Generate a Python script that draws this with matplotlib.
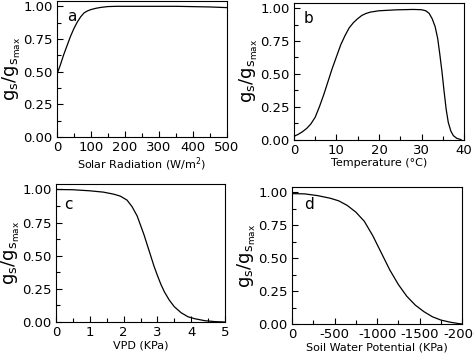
import matplotlib
matplotlib.use('Agg')
import matplotlib.pyplot as plt
from matplotlib.ticker import MultipleLocator, FormatStrFormatter

plt.rcParams['axes.unicode_minus'] = False
plt.rcParams['font.family'] = 'DejaVu Sans'

# a) solar radiation response
solar_x = [0, 10, 20, 30, 40, 50, 60, 70, 80, 90, 100, 115, 130, 150, 175,
           250, 350, 450, 500]
solar_y = [0.48, 0.55, 0.63, 0.70, 0.77, 0.83, 0.88, 0.92, 0.95, 0.965, 0.975,
           0.985, 0.992, 0.998, 1.0, 1.0, 1.0, 0.995, 0.99]

# b) temperature response
temp_x = [0, 1, 2, 3, 4, 5, 6, 7, 8, 9, 10, 11, 12, 13, 14, 15, 16, 17, 18,
          20, 24, 28, 30, 31, 31.8, 32.5, 33.2, 33.8, 34.3, 34.8, 35.3, 35.8,
          36.3, 36.9, 37.5, 38.3, 39.3]
temp_y = [0.025, 0.04, 0.06, 0.085, 0.12, 0.17, 0.25, 0.34, 0.44, 0.54, 0.63,
          0.72, 0.79, 0.85, 0.89, 0.92, 0.945, 0.96, 0.97, 0.98, 0.987, 0.99,
          0.988, 0.98, 0.96, 0.92, 0.86, 0.77, 0.65, 0.52, 0.37, 0.23, 0.13,
          0.065, 0.03, 0.01, 0.0]

# c) vapour pressure deficit response
vpd_x = [0, 0.5, 1.0, 1.4, 1.7, 1.9, 2.1, 2.25, 2.4, 2.5, 2.6, 2.7, 2.8, 2.9,
         3.0, 3.1, 3.2, 3.35, 3.5, 3.7, 3.9, 4.1, 4.4, 4.7, 5.0]
vpd_y = [1.0, 0.998, 0.99, 0.98, 0.965, 0.95, 0.92, 0.87, 0.80, 0.73, 0.66,
         0.58, 0.50, 0.42, 0.35, 0.285, 0.23, 0.165, 0.115, 0.07, 0.04, 0.025,
         0.01, 0.003, 0.0]

# d) soil water potential response
swp_x = [0, -150, -300, -450, -550, -650, -750, -850, -950, -1050, -1150,
         -1250, -1350, -1450, -1550, -1650, -1750, -1850, -1950, -2000]
swp_y = [0.99, 0.988, 0.975, 0.955, 0.935, 0.90, 0.85, 0.78, 0.67, 0.54,
         0.41, 0.30, 0.21, 0.143, 0.094, 0.055, 0.03, 0.015, 0.004, 0.0]

ylab = r'$\mathregular{g_s/g_{s_{max}}}$'

panels = [
    dict(pos=[0.120, 0.618, 0.359, 0.379], x=solar_x, y=solar_y,
         xlim=(0, 500), major=100, minor=50,
         xlabel='Solar Radiation (W/m$^2$)', tag='a', tagxy=(44, 0.92)),
    dict(pos=[0.620, 0.611, 0.359, 0.381], x=temp_x, y=temp_y,
         xlim=(0, 40), major=10, minor=5,
         xlabel='Temperature (°C)', tag='b', tagxy=(3.5, 0.92)),
    dict(pos=[0.118, 0.103, 0.357, 0.384], x=vpd_x, y=vpd_y,
         xlim=(0, 5), major=1, minor=0.5,
         xlabel='VPD (KPa)', tag='c', tagxy=(0.37, 0.89)),
    dict(pos=[0.616, 0.0975, 0.359, 0.3815], x=swp_x, y=swp_y,
         xlim=(0, -2000), major=500, minor=250,
         xlabel='Soil Water Potential (KPa)', tag='d', tagxy=(-197, 0.91)),
]

fig = plt.figure(figsize=(4.74, 3.59), dpi=100)
for p in panels:
    ax = fig.add_axes(p['pos'])
    ax.plot(p['x'], p['y'], color='black', linewidth=0.9)
    ax.set_xlim(*p['xlim'])
    ax.set_ylim(0, 1.04)
    ax.xaxis.set_major_locator(MultipleLocator(p['major']))
    ax.xaxis.set_minor_locator(MultipleLocator(p['minor']))
    ax.xaxis.set_major_formatter(FormatStrFormatter('%d'))
    ax.yaxis.set_major_locator(MultipleLocator(0.25))
    ax.yaxis.set_minor_locator(MultipleLocator(0.125))
    ax.yaxis.set_major_formatter(FormatStrFormatter('%.2f'))
    ax.tick_params(which='both', direction='in', labelsize=9.5, pad=3)
    ax.tick_params(which='major', length=4, width=0.8)
    ax.tick_params(which='minor', length=3, width=0.8)
    for s in ax.spines.values():
        s.set_linewidth(0.8)
    ax.set_xlabel(p['xlabel'], fontsize=8, labelpad=1)
    ax.set_ylabel(ylab, fontsize=13, labelpad=0)
    ax.text(p['tagxy'][0], p['tagxy'][1], p['tag'], fontsize=11,
            ha='center', va='center')

fig.savefig('out.png', dpi=100)
